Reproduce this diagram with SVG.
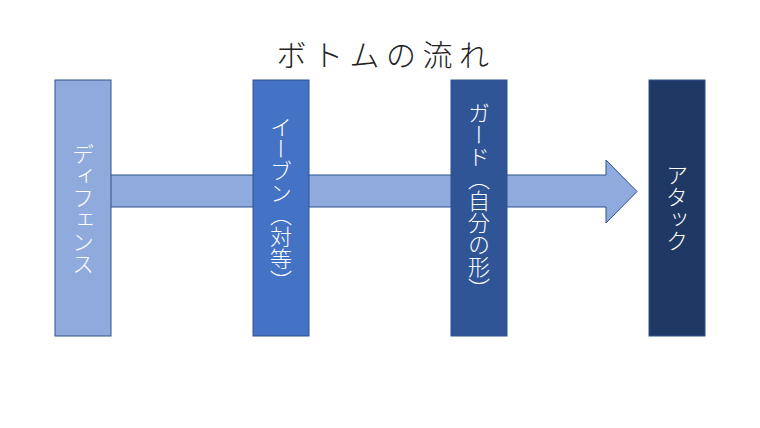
<svg xmlns="http://www.w3.org/2000/svg" width="760" height="428" viewBox="0 0 760 428">
<style>
.box{stroke:#2F528F;stroke-width:1}
.lbl{font-family:"Noto Sans CJK JP","Noto Sans",sans-serif;font-size:22px;fill:#FFFFFF;writing-mode:vertical-rl;text-anchor:middle;font-weight:300}
.title{font-family:"Noto Sans CJK JP","Noto Sans",sans-serif;font-size:30px;fill:#222222;text-anchor:middle;letter-spacing:6.5px;font-weight:300}
</style>
<rect width="760" height="428" fill="#FFFFFF"/>
<text class="title" x="386" y="66">ボトムの流れ</text>
<g id="connectors">
<path d="M110,175 H606 V160 L637,191.5 L606,223 V207 H110 Z" fill="#8FAADC" stroke="#2F528F" stroke-width="1"/>
</g>
<g id="node-defense">
<rect class="box" x="55" y="80" width="56" height="256" fill="#8FAADC"/>
<text class="lbl" x="83" y="209">ディフェンス</text>
</g>
<g id="node-even">
<rect class="box" x="253" y="80" width="56" height="256" fill="#4472C4"/>
<text class="lbl" x="281" y="204">イーブン（対等）</text>
</g>
<g id="node-guard">
<rect class="box" x="451" y="80" width="56" height="256" fill="#2F5597"/>
<text class="lbl" x="479" y="201">ガード（自分の形）</text>
</g>
<g id="node-attack">
<rect class="box" x="649" y="80" width="56" height="256" fill="#203864"/>
<text class="lbl" x="677" y="208">アタック</text>
</g>
</svg>
